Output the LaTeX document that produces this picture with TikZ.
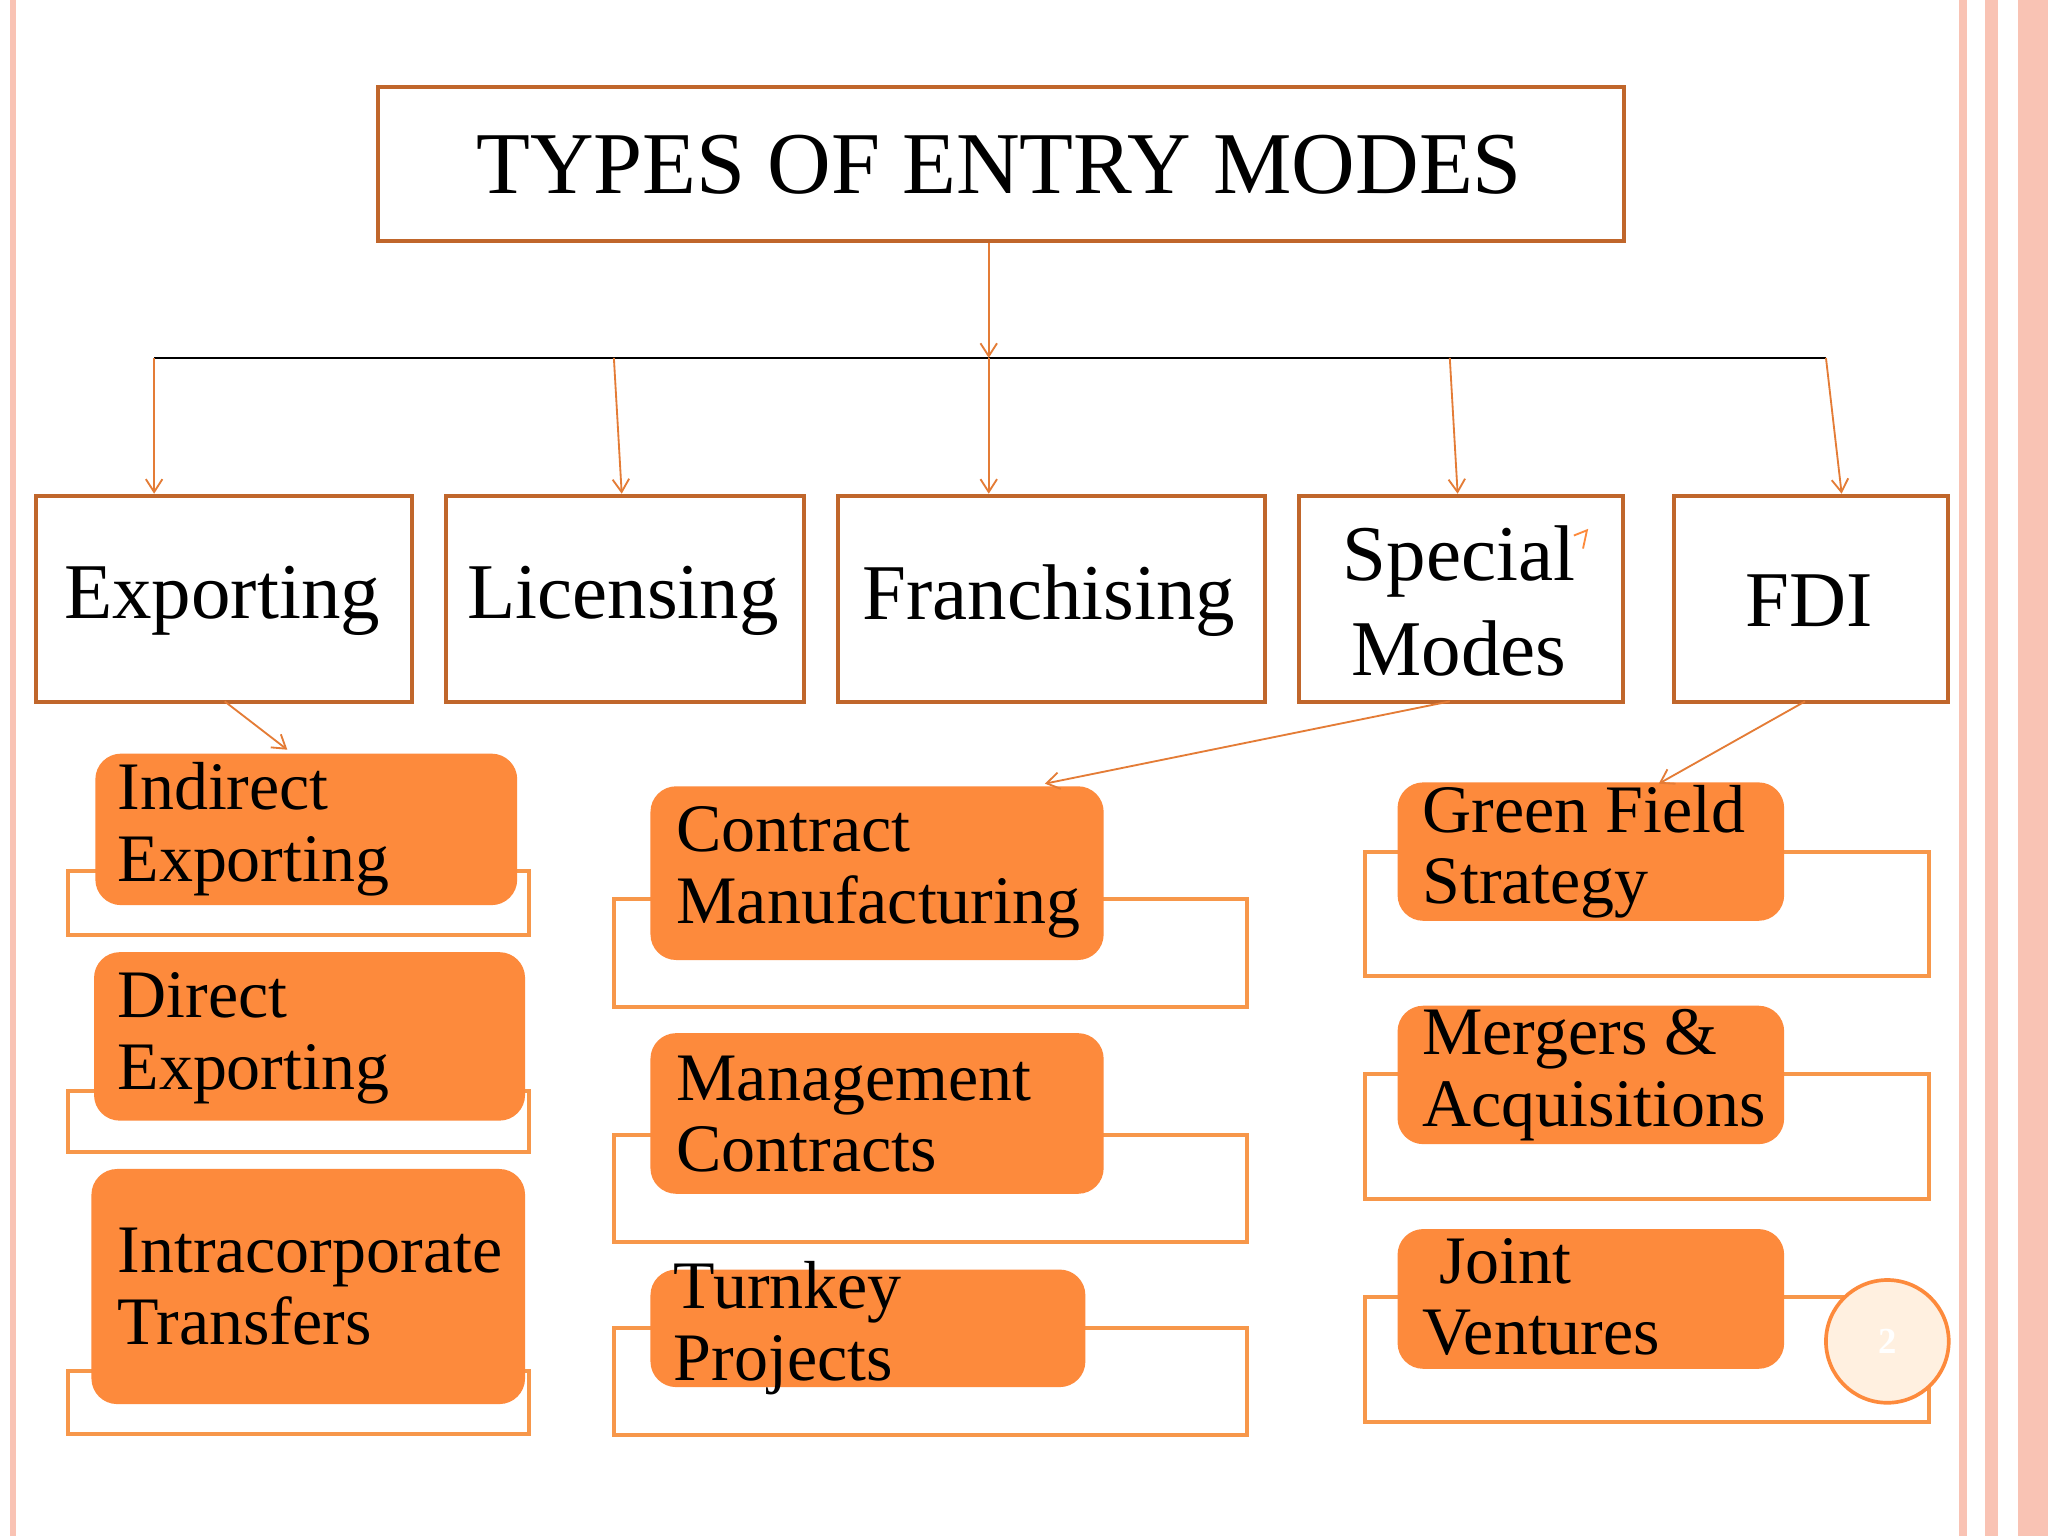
\documentclass[tikz,border=0pt]{standalone}
\usepackage{fontspec}
\setmainfont{Liberation Serif}
\usetikzlibrary{arrows.meta}
\definecolor{brd}{HTML}{C0662B}
\definecolor{org}{HTML}{FD8A3C}
\definecolor{frm}{HTML}{F7974A}
\definecolor{pinkb}{HTML}{F9C3B4}
\begin{document}
\begin{tikzpicture}[x=0.025cm,y=-0.025cm,
  hbox/.style={draw=brd,line width=2.2pt,fill=white},
  obox/.style={fill=org,rounded corners=14pt},
  oframe/.style={draw=frm,line width=2.2pt},
  arr/.style={draw=org!90!black,line width=1pt,-{Straight Barb[length=7pt,width=9pt]}},
  htxt/.style={font=\fontsize{43}{52}\selectfont,align=center},
  otxt/.style={font=\fontsize{37}{39}\selectfont,align=left,anchor=west}]
\useasboundingbox (0,0) rectangle (1568,1176);
\fill[white] (0,0) rectangle (1568,1176);
\fill[pinkb] (8,0) rectangle (12,1176);
\fill[pinkb] (1500,0) rectangle (1506,1176);
\fill[pinkb] (1520,0) rectangle (1530,1176);
\fill[pinkb] (1545,0) rectangle (1568,1176);
% title
\node[hbox,minimum width=954*0.025cm,minimum height=118*0.025cm,anchor=north west] (title) at (288,65) {};
\node[font=\fontsize{48}{50}\selectfont] (tt) at (765,126) {TYPES OF ENTRY MODES};
\coordinate (j) at (757,274);
\coordinate (l0) at (118,274); \coordinate (l1) at (1398,274);
\draw[black,line width=1.2pt] (l0) -- (l1);
\draw[arr] (title.south -| j) -- (j);
% headers
\foreach \n/\x/\w in {exp/26/288,lic/340/274,fra/640/327,spe/993/248,fdi/1280/210}
  \node[hbox,anchor=north west,minimum width=\w*0.025cm,minimum height=158*0.025cm] (\n) at (\x,378) {};
\node[htxt] at (170,460) {Exporting};
\node[htxt] at (477,460) {Licensing};
\node[htxt] at (803,460) {Franchising};
\node[htxt] at (1117,460) {Special\\Modes};
\node[htxt] at (1385,460) {FDI};
\coordinate (a1) at (470,274); \coordinate (a3) at (1110,274);
\draw[arr] (l0) -- (118,378);
\draw[arr] (a1) -- (476,378);
\draw[arr] (j) -- (757,378);
\draw[arr] (a3) -- (1116,378);
\draw[arr] (l1) -- (1410,378);
\draw[org,line width=1pt] (1205,410) -- (1215,406) -- (1212,420);
% orange boxes with frames
\foreach \n/\fa/\fb/\fc/\fd/\ba/\bb/\bc/\bd in {
  ie/52/667/405/716/73/577/396/693,
  de/52/835/405/882/72/729/402/858,
  it/52/1050/405/1098/70/895/402/1075,
  cm/470/688/955/771/498/602/845/735,
  mc/470/869/955/951/498/791/845/914,
  tk/470/1017/955/1099/498/972/831/1062,
  gf/1045/652/1477/747/1070/599/1366/705,
  ma/1045/822/1477/918/1070/770/1366/876,
  jv/1045/993/1477/1089/1070/941/1366/1048}{
  \draw[oframe] (\fa,\fb) rectangle (\fc,\fd);
  \fill[obox] (\ba,\bb) rectangle (\bc,\bd);
  \coordinate (\n) at (\ba,\bb);
}
\node[otxt] (tie) at (85,635) {Indirect\\Exporting};
\node[otxt] (tde) at (85,795) {Direct\\Exporting};
\node[otxt] (tit) at (85,985) {Intracorporate\\Transfers};
\node[otxt] (tcm) at (513,668) {Contract\\Manufacturing};
\node[otxt] (tmc) at (513,853) {Management\\Contracts};
\node[otxt] (ttk) at (511,1017) {Turnkey\\Projects};
\node[otxt] (tgf) at (1084,652) {Green Field\\Strategy};
\node[otxt] (tma) at (1084,823) {Mergers \&\\Acquisitions};
\node[otxt] (tjv) at (1084,993) {\ Joint\\Ventures};
% connectors
\draw[arr] (172,537) -- (220,574);
\draw[arr] (1110,537) -- (800,600);
\draw[arr] (1382,537) -- (1270,600);
% page number
\node[circle,fill=orange!12,draw=org,line width=2pt,minimum size=94*0.025cm,text=white,font=\fontsize{20}{20}\selectfont\bfseries] (pg) at (1445,1027) {2};
\end{tikzpicture}
\end{document}
